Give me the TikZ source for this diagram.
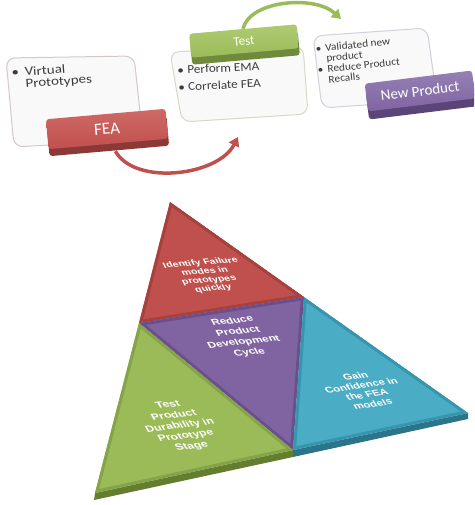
\documentclass[tikz,border=0pt]{standalone}
\usepackage{fontspec}
\setmainfont{Carlito}
\newfontfamily\trifont{Liberation Sans}
\usetikzlibrary{arrows.meta,calc,backgrounds}
\definecolor{feared}{HTML}{C0504D}
\definecolor{feadark}{HTML}{8C3836}
\definecolor{featop}{HTML}{CF6A67}
\definecolor{testgreen}{HTML}{9BBB59}
\definecolor{testdark}{HTML}{6F8A3A}
\definecolor{testtop}{HTML}{AECB72}
\definecolor{prodpurple}{HTML}{8064A2}
\definecolor{proddark}{HTML}{5B4578}
\definecolor{prodtop}{HTML}{9580B3}
\definecolor{tred}{HTML}{C0504D}
\definecolor{tredb}{HTML}{A6413E}
\definecolor{tpurple}{HTML}{8064A2}
\definecolor{tpurpleb}{HTML}{6A4F8C}
\definecolor{tgreen}{HTML}{9BBB59}
\definecolor{tgreenb}{HTML}{85A348}
\definecolor{tblue}{HTML}{4BACC6}
\definecolor{tblueb}{HTML}{3895AE}
\definecolor{rimgreen}{HTML}{647E2F}
\definecolor{rimblue}{HTML}{2B7489}
\definecolor{boxfill}{HTML}{F9F9F9}
\definecolor{boxa}{HTML}{D9C5C5}
\definecolor{boxb}{HTML}{D3DAC6}
\definecolor{boxc}{HTML}{D3CFDB}
\definecolor{boxtxt}{HTML}{3C3C3C}
\newcommand\bl[1]{\makebox[#1][l]{\textbullet}}
\newcommand\facet[3]{\begin{scope}\clip #1;\fill[#2] #1;\draw[#3,line width=6pt,line join=round] #1;\end{scope}}
\begin{document}
\begin{tikzpicture}[x=1pt,y=-1pt,
  boxshape/.style={fill=boxfill,line width=1pt,rounded corners=9pt},
  boxtext/.style={text=boxtxt,align=left,inner sep=0pt,anchor=north west},
  barside/.style={rounded corners=3pt,inner sep=0pt},
  barface/.style={rounded corners=3pt,inner sep=0pt,text=white},
  arrowline/.style={line width=3.5pt,-{Triangle[length=9pt,width=11pt]}},
  tritext/.style={text=white,align=center,inner sep=0pt,xslant=-0.35,xscale=1.4}]
\useasboundingbox (0,0) rectangle (474,505);
\clip (0,0) rectangle (474,505);

% ---------- top process ----------
\draw[boxshape,draw=boxa] (6,58) -- (134,56) -- (143,140) -- (14,147) -- cycle;
\draw[boxshape,draw=boxb] (170,52) -- (303,46) -- (308,114) -- (182,122) -- cycle;
\draw[boxshape,draw=boxc] (313,36) -- (427,28) -- (437,100) -- (322,108) -- cycle;

\node[boxtext,rotate=4,xscale=1.2,font=\fontsize{12.5}{11.8}\selectfont] (vp) at (11,68)
  {\bl{11pt}Virtual\\\hspace*{11pt}Prototypes};
\node[boxtext,rotate=3,xscale=1.1,font=\fontsize{12}{12}\selectfont] (ema) at (177,66)
  {\bl{9pt}Perform EMA\\[5pt]\bl{9pt}Correlate FEA};
\node[boxtext,rotate=6,xscale=1.08,font=\fontsize{10.5}{10.6}\selectfont] (val) at (315,45)
  {\bl{9pt}Validated new\\\hspace*{9pt}product\\\bl{9pt}Reduce Product\\\hspace*{9pt}Recalls};

\node[barside,fill=feadark,minimum width=120pt,minimum height=30pt,rotate=5] (feaside) at (108,136) {};
\node[barface,top color=featop,bottom color=feared,minimum width=120pt,minimum height=30pt,rotate=5,
  font=\fontsize{17}{17}\selectfont] (fea) at (107,129) {FEA};

\node[barside,fill=testdark,minimum width=108pt,minimum height=24pt,rotate=5] (testside) at (245,48) {};
\node[barface,top color=testtop,bottom color=testgreen,minimum width=108pt,minimum height=24pt,rotate=5,
  font=\fontsize{13}{13}\selectfont] (test) at (244,41) {Test};

\node[barside,fill=proddark,minimum width=108pt,minimum height=28pt,rotate=7] (prodside) at (421,99) {};
\node[barface,top color=prodtop,bottom color=prodpurple,minimum width=108pt,minimum height=28pt,rotate=7,
  font=\fontsize{15}{15}\selectfont] (prod) at (420,91) {New Product};

\begin{pgfonlayer}{background}
\coordinate (redend) at (238,137);
\coordinate (greenend) at (341,19);
\draw[arrowline,draw=feared] ([xshift=6pt]feaside.south) .. controls (135,186) and (218,176) .. (redend);
\draw[arrowline,draw=testgreen] (test.north) .. controls (250,0) and (315,-5) .. (greenend);
\end{pgfonlayer}

% ---------- pyramid ----------
\coordinate (A) at (170,202);
\coordinate (BL) at (95,493);
\coordinate (R) at (468,413);
\coordinate (L1) at (139,323);
\coordinate (R1) at (304,297);
\coordinate (B1) at (293,450);

\fill[rimgreen] (BL) -- (B1) -- ($(B1)+(0,7)$) -- ($(BL)+(-1,7)$) -- cycle;
\fill[rimblue] (B1) -- (R) -- ($(R)+(0,6)$) -- ($(B1)+(0,7)$) -- cycle;

\facet{(A) -- (L1) -- (R1) -- cycle}{tred}{tredb}
\facet{(L1) -- (R1) -- (B1) -- cycle}{tpurple}{tpurpleb}
\facet{(L1) -- (B1) -- (BL) -- cycle}{tgreen}{tgreenb}
\facet{(R1) -- (R) -- (B1) -- cycle}{tblue}{tblueb}

\node[tritext,rotate=6,font=\trifont\bfseries\fontsize{7.7}{8.6}\selectfont] (ident) at (207,276)
  {Identify Failure\\modes in\\prototypes\\quickly};
\node[tritext,rotate=8,font=\trifont\bfseries\fontsize{8.5}{10.6}\selectfont] (reduce) at (241,337)
  {Reduce\\Product\\Development\\Cycle};
\node[tritext,rotate=9,font=\trifont\bfseries\fontsize{8.8}{10.5}\selectfont] (dura) at (180,426)
  {Test\\Product\\Durability in\\Prototype\\Stage};
\node[tritext,rotate=11,font=\trifont\bfseries\fontsize{8.3}{9.4}\selectfont] (gain) at (364,390)
  {Gain\\Confidence in\\the FEA\\models};
\end{tikzpicture}
\end{document}
